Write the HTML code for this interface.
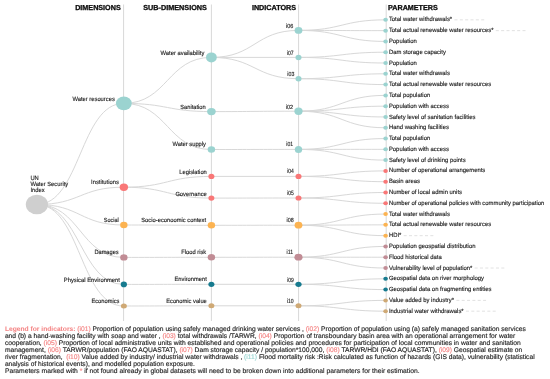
<!DOCTYPE html>
<html><head><meta charset="utf-8"><style>
html,body{margin:0;padding:0;background:#fff;}
body{width:550px;height:379px;position:relative;overflow:hidden;}
text{text-rendering:geometricPrecision;}
</style></head><body>
<svg width="550" height="379" viewBox="0 0 550 379" style="position:absolute;left:0;top:0">
<line x1="123.6" y1="4.5" x2="123.6" y2="321" stroke="#d8d8d8" stroke-width="1.0"/>
<line x1="211.4" y1="4.5" x2="211.4" y2="321" stroke="#d8d8d8" stroke-width="1.0"/>
<line x1="298.6" y1="4.5" x2="298.6" y2="321" stroke="#d8d8d8" stroke-width="1.0"/>
<line x1="386.2" y1="4.5" x2="386.2" y2="321" stroke="#d8d8d8" stroke-width="1.0"/>
<path d="M36.90,204.50C80.25,204.50 80.25,103.40 123.60,103.40 M36.90,204.50C80.25,204.50 80.25,187.20 123.60,187.20 M36.90,204.50C80.25,204.50 80.25,225.00 123.60,225.00 M36.90,204.50C80.25,204.50 80.25,257.40 123.60,257.40 M36.90,204.50C80.25,204.50 80.25,284.40 123.60,284.40 M36.90,204.50C80.25,204.50 80.25,306.00 123.60,306.00 M123.60,103.40C167.50,103.40 167.50,57.40 211.40,57.40 M123.60,103.40C167.50,103.40 167.50,111.60 211.40,111.60 M123.60,103.40C167.50,103.40 167.50,149.50 211.40,149.50 M123.60,187.20C167.50,187.20 167.50,176.40 211.40,176.40 M123.60,187.20C167.50,187.20 167.50,198.10 211.40,198.10 M123.60,225.00C167.50,225.00 167.50,225.30 211.40,225.30 M123.60,257.40C167.50,257.40 167.50,257.30 211.40,257.30 M123.60,284.40C167.50,284.40 167.50,284.30 211.40,284.30 M123.60,306.00C167.50,306.00 167.50,305.80 211.40,305.80 M211.40,57.40C255.00,57.40 255.00,30.40 298.60,30.40 M211.40,57.40H298.60 M211.40,57.40C255.00,57.40 255.00,78.70 298.60,78.70 M211.40,111.60C255.00,111.60 255.00,111.20 298.60,111.20 M211.40,149.50C255.00,149.50 255.00,149.40 298.60,149.40 M211.40,176.40H298.60 M211.40,198.10C255.00,198.10 255.00,198.00 298.60,198.00 M211.40,225.30C255.00,225.30 255.00,225.20 298.60,225.20 M211.40,257.30C255.00,257.30 255.00,257.20 298.60,257.20 M211.40,284.30H298.60 M211.40,305.80H298.60 M298.60,30.40C342.10,30.40 342.10,19.85 385.60,19.85 M298.60,30.40C342.10,30.40 342.10,30.64 385.60,30.64 M298.60,30.40C342.10,30.40 342.10,41.43 385.60,41.43 M298.60,57.40C342.10,57.40 342.10,52.22 385.60,52.22 M298.60,57.40C342.10,57.40 342.10,63.01 385.60,63.01 M298.60,78.70C342.10,78.70 342.10,73.80 385.60,73.80 M298.60,78.70C342.10,78.70 342.10,84.59 385.60,84.59 M298.60,111.20C342.10,111.20 342.10,95.38 385.60,95.38 M298.60,111.20C342.10,111.20 342.10,106.17 385.60,106.17 M298.60,111.20C342.10,111.20 342.10,116.96 385.60,116.96 M298.60,111.20C342.10,111.20 342.10,127.75 385.60,127.75 M298.60,149.40C342.10,149.40 342.10,138.54 385.60,138.54 M298.60,149.40C342.10,149.40 342.10,149.33 385.60,149.33 M298.60,149.40C342.10,149.40 342.10,160.12 385.60,160.12 M298.60,176.40C342.10,176.40 342.10,170.91 385.60,170.91 M298.60,176.40C342.10,176.40 342.10,181.70 385.60,181.70 M298.60,198.00C342.10,198.00 342.10,192.49 385.60,192.49 M298.60,198.00C342.10,198.00 342.10,203.28 385.60,203.28 M298.60,225.20C342.10,225.20 342.10,214.07 385.60,214.07 M298.60,225.20C342.10,225.20 342.10,224.86 385.60,224.86 M298.60,225.20C342.10,225.20 342.10,235.65 385.60,235.65 M298.60,257.20C342.10,257.20 342.10,246.44 385.60,246.44 M298.60,257.20C342.10,257.20 342.10,257.23 385.60,257.23 M298.60,257.20C342.10,257.20 342.10,268.02 385.60,268.02 M298.60,284.30C342.10,284.30 342.10,278.81 385.60,278.81 M298.60,284.30C342.10,284.30 342.10,289.60 385.60,289.60 M298.60,305.80C342.10,305.80 342.10,300.39 385.60,300.39 M298.60,305.80C342.10,305.80 342.10,311.18 385.60,311.18" fill="none" stroke="#d8d8d8" stroke-width="1.0"/>
<ellipse cx="36.9" cy="204.5" rx="11.1" ry="9.8" fill="#cfcfcf"/>
<ellipse cx="123.85" cy="103.4" rx="7.9" ry="6.8" fill="#9bd3d0"/>
<ellipse cx="123.85" cy="187.2" rx="4.2" ry="3.7" fill="#f97777"/>
<ellipse cx="123.85" cy="225.0" rx="3.7" ry="3.2" fill="#fcb351"/>
<ellipse cx="123.85" cy="257.4" rx="3.7" ry="3.2" fill="#c18c95"/>
<ellipse cx="123.85" cy="284.4" rx="3.1" ry="2.8" fill="#177b8f"/>
<ellipse cx="123.85" cy="306.0" rx="3.0" ry="2.5" fill="#cfa975"/>
<ellipse cx="211.4" cy="57.4" rx="5.4" ry="5.0" fill="#9bd3d0"/>
<ellipse cx="211.4" cy="111.6" rx="4.3" ry="3.7" fill="#9bd3d0"/>
<ellipse cx="211.4" cy="149.5" rx="3.7" ry="3.2" fill="#9bd3d0"/>
<ellipse cx="211.4" cy="176.4" rx="3.0" ry="2.6" fill="#f97777"/>
<ellipse cx="211.4" cy="198.1" rx="3.0" ry="2.6" fill="#f97777"/>
<ellipse cx="211.4" cy="225.3" rx="3.7" ry="3.2" fill="#fcb351"/>
<ellipse cx="211.4" cy="257.3" rx="3.7" ry="3.3" fill="#c18c95"/>
<ellipse cx="211.4" cy="284.3" rx="3.0" ry="2.6" fill="#177b8f"/>
<ellipse cx="211.4" cy="305.8" rx="3.0" ry="2.5" fill="#cfa975"/>
<ellipse cx="298.5" cy="30.4" rx="3.9" ry="3.4" fill="#9bd3d0"/>
<ellipse cx="298.5" cy="57.4" rx="3.0" ry="2.75" fill="#9bd3d0"/>
<ellipse cx="298.5" cy="78.7" rx="3.0" ry="2.75" fill="#9bd3d0"/>
<ellipse cx="298.5" cy="111.2" rx="4.1" ry="3.7" fill="#9bd3d0"/>
<ellipse cx="298.5" cy="149.4" rx="3.7" ry="3.5" fill="#9bd3d0"/>
<ellipse cx="298.5" cy="176.4" rx="3.0" ry="2.6" fill="#f97777"/>
<ellipse cx="298.5" cy="198.0" rx="3.0" ry="2.6" fill="#f97777"/>
<ellipse cx="298.5" cy="225.2" rx="3.9" ry="3.4" fill="#fcb351"/>
<ellipse cx="298.5" cy="257.2" rx="4.1" ry="3.4" fill="#c18c95"/>
<ellipse cx="298.5" cy="284.3" rx="3.1" ry="2.6" fill="#177b8f"/>
<ellipse cx="298.5" cy="305.8" rx="3.0" ry="2.5" fill="#cfa975"/>
<ellipse cx="385.6" cy="19.85" rx="2.3" ry="2.0" fill="#9bd3d0"/>
<ellipse cx="385.6" cy="30.64" rx="2.3" ry="2.0" fill="#9bd3d0"/>
<ellipse cx="385.6" cy="41.43" rx="2.3" ry="2.0" fill="#9bd3d0"/>
<ellipse cx="385.6" cy="52.22" rx="2.3" ry="2.0" fill="#9bd3d0"/>
<ellipse cx="385.6" cy="63.01" rx="2.3" ry="2.0" fill="#9bd3d0"/>
<ellipse cx="385.6" cy="73.80" rx="2.3" ry="2.0" fill="#9bd3d0"/>
<ellipse cx="385.6" cy="84.59" rx="2.3" ry="2.0" fill="#9bd3d0"/>
<ellipse cx="385.6" cy="95.38" rx="2.3" ry="2.0" fill="#9bd3d0"/>
<ellipse cx="385.6" cy="106.17" rx="2.3" ry="2.0" fill="#9bd3d0"/>
<ellipse cx="385.6" cy="116.96" rx="2.3" ry="2.0" fill="#9bd3d0"/>
<ellipse cx="385.6" cy="127.75" rx="2.3" ry="2.0" fill="#9bd3d0"/>
<ellipse cx="385.6" cy="138.54" rx="2.3" ry="2.0" fill="#9bd3d0"/>
<ellipse cx="385.6" cy="149.33" rx="2.3" ry="2.0" fill="#9bd3d0"/>
<ellipse cx="385.6" cy="160.12" rx="2.3" ry="2.0" fill="#9bd3d0"/>
<ellipse cx="385.6" cy="170.91" rx="2.3" ry="2.0" fill="#f97777"/>
<ellipse cx="385.6" cy="181.70" rx="2.3" ry="2.0" fill="#f97777"/>
<ellipse cx="385.6" cy="192.49" rx="2.3" ry="2.0" fill="#f97777"/>
<ellipse cx="385.6" cy="203.28" rx="2.3" ry="2.0" fill="#f97777"/>
<ellipse cx="385.6" cy="214.07" rx="2.3" ry="2.0" fill="#fcb351"/>
<ellipse cx="385.6" cy="224.86" rx="2.3" ry="2.0" fill="#fcb351"/>
<ellipse cx="385.6" cy="235.65" rx="2.3" ry="2.0" fill="#fcb351"/>
<ellipse cx="385.6" cy="246.44" rx="2.3" ry="2.0" fill="#c18c95"/>
<ellipse cx="385.6" cy="257.23" rx="2.3" ry="2.0" fill="#c18c95"/>
<ellipse cx="385.6" cy="268.02" rx="2.3" ry="2.0" fill="#c18c95"/>
<ellipse cx="385.6" cy="278.81" rx="2.3" ry="2.0" fill="#177b8f"/>
<ellipse cx="385.6" cy="289.60" rx="2.3" ry="2.0" fill="#177b8f"/>
<ellipse cx="385.6" cy="300.39" rx="2.3" ry="2.0" fill="#cfa975"/>
<ellipse cx="385.6" cy="311.18" rx="2.3" ry="2.0" fill="#cfa975"/>
<g font-family='"Liberation Sans", Arial, sans-serif' font-weight="bold" font-size="7.2" fill="#0a0a0a" stroke="#0a0a0a" stroke-width="0.28">
<text x="75.20" y="9.6" textLength="45.50" lengthAdjust="spacingAndGlyphs">DIMENSIONS</text>
<text x="143.20" y="9.6" textLength="63.70" lengthAdjust="spacingAndGlyphs">SUB-DIMENSIONS</text>
<text x="251.90" y="9.6" textLength="44.20" lengthAdjust="spacingAndGlyphs">INDICATORS</text>
<text x="388.00" y="9.6" textLength="49.80" lengthAdjust="spacingAndGlyphs">PARAMETERS</text>
</g>
<g font-family='"Liberation Sans", Arial, sans-serif' font-size="6.1" fill="#1e1e1e" stroke="#1e1e1e" stroke-width="0.14">
<text x="30.40" y="179.6" textLength="8.38" lengthAdjust="spacingAndGlyphs">UN</text>
<text x="30.40" y="185.7" textLength="37.80" lengthAdjust="spacingAndGlyphs">Water Security</text>
<text x="30.40" y="191.8" textLength="14.19" lengthAdjust="spacingAndGlyphs">Index</text>
<text x="72.50" y="100.9" textLength="42.30" lengthAdjust="spacingAndGlyphs">Water resources</text>
<text x="91.07" y="183.8" textLength="27.73" lengthAdjust="spacingAndGlyphs">Institutions</text>
<text x="103.80" y="221.8" textLength="14.90" lengthAdjust="spacingAndGlyphs">Social</text>
<text x="94.40" y="254.4" textLength="24.30" lengthAdjust="spacingAndGlyphs">Damages</text>
<text x="63.80" y="281.5" textLength="56.10" lengthAdjust="spacingAndGlyphs">Physical Environment</text>
<text x="91.40" y="303.4" textLength="28.10" lengthAdjust="spacingAndGlyphs">Economics</text>
<text x="160.60" y="55.0" textLength="43.80" lengthAdjust="spacingAndGlyphs">Water availability</text>
<text x="180.30" y="108.7" textLength="25.40" lengthAdjust="spacingAndGlyphs">Sanitation</text>
<text x="172.60" y="145.9" textLength="33.40" lengthAdjust="spacingAndGlyphs">Water supply</text>
<text x="179.30" y="173.9" textLength="27.50" lengthAdjust="spacingAndGlyphs">Legislation</text>
<text x="175.40" y="195.5" textLength="31.40" lengthAdjust="spacingAndGlyphs">Governance</text>
<text x="141.20" y="221.9" textLength="64.90" lengthAdjust="spacingAndGlyphs">Socio-econoomic context</text>
<text x="181.20" y="254.4" textLength="25.00" lengthAdjust="spacingAndGlyphs">Flood risk</text>
<text x="174.50" y="281.0" textLength="32.30" lengthAdjust="spacingAndGlyphs">Environment</text>
<text x="166.20" y="302.8" textLength="40.60" lengthAdjust="spacingAndGlyphs">Economic value</text>
<text x="286.10" y="27.6" textLength="7.30" lengthAdjust="spacingAndGlyphs">i06</text>
<text x="286.90" y="54.8" textLength="6.70" lengthAdjust="spacingAndGlyphs">i07</text>
<text x="287.30" y="76.4" textLength="7.00" lengthAdjust="spacingAndGlyphs">i03</text>
<text x="285.90" y="108.6" textLength="7.20" lengthAdjust="spacingAndGlyphs">i02</text>
<text x="286.30" y="146.4" textLength="6.80" lengthAdjust="spacingAndGlyphs">i01</text>
<text x="287.20" y="173.2" textLength="6.70" lengthAdjust="spacingAndGlyphs">i04</text>
<text x="287.20" y="195.0" textLength="6.70" lengthAdjust="spacingAndGlyphs">i05</text>
<text x="286.50" y="221.9" textLength="7.20" lengthAdjust="spacingAndGlyphs">i08</text>
<text x="286.50" y="254.3" textLength="6.50" lengthAdjust="spacingAndGlyphs">i11</text>
<text x="287.20" y="281.5" textLength="6.70" lengthAdjust="spacingAndGlyphs">i09</text>
<text x="286.80" y="303.3" textLength="6.80" lengthAdjust="spacingAndGlyphs">i10</text>
<g font-size="6.1">
<text x="388.9" y="21.40" textLength="63.29" lengthAdjust="spacingAndGlyphs">Total water withdrawals*</text>
<text x="388.9" y="32.19" textLength="104.62" lengthAdjust="spacingAndGlyphs">Total actual renewable water resources*</text>
<text x="388.9" y="42.98" textLength="27.88" lengthAdjust="spacingAndGlyphs">Population</text>
<text x="388.9" y="53.77" textLength="57.06" lengthAdjust="spacingAndGlyphs">Dam storage capacity</text>
<text x="388.9" y="64.56" textLength="27.88" lengthAdjust="spacingAndGlyphs">Population</text>
<text x="388.9" y="75.35" textLength="60.99" lengthAdjust="spacingAndGlyphs">Total water withdrawals</text>
<text x="388.9" y="86.14" textLength="102.32" lengthAdjust="spacingAndGlyphs">Total actual renewable water resources</text>
<text x="388.9" y="96.93" textLength="41.33" lengthAdjust="spacingAndGlyphs">Total population</text>
<text x="388.9" y="107.72" textLength="60.02" lengthAdjust="spacingAndGlyphs">Population with access</text>
<text x="388.9" y="118.51" textLength="86.58" lengthAdjust="spacingAndGlyphs">Safety level of sanitation facilities</text>
<text x="388.9" y="129.30" textLength="60.01" lengthAdjust="spacingAndGlyphs">Hand washing facilities</text>
<text x="388.9" y="140.09" textLength="41.33" lengthAdjust="spacingAndGlyphs">Total population</text>
<text x="388.9" y="150.88" textLength="60.02" lengthAdjust="spacingAndGlyphs">Population with access</text>
<text x="388.9" y="161.67" textLength="76.74" lengthAdjust="spacingAndGlyphs">Safety level of drinking points</text>
<text x="388.9" y="172.46" textLength="96.42" lengthAdjust="spacingAndGlyphs">Number of operational arrangements</text>
<text x="388.9" y="183.25" textLength="31.16" lengthAdjust="spacingAndGlyphs">Basin areas</text>
<text x="388.9" y="194.04" textLength="73.13" lengthAdjust="spacingAndGlyphs">Number of local admin units</text>
<text x="388.9" y="204.83" textLength="155.44" lengthAdjust="spacingAndGlyphs">Number of operational policies with community participation</text>
<text x="388.9" y="215.62" textLength="60.99" lengthAdjust="spacingAndGlyphs">Total water withdrawals</text>
<text x="388.9" y="226.41" textLength="102.32" lengthAdjust="spacingAndGlyphs">Total actual renewable water resources</text>
<text x="388.9" y="237.20" textLength="12.46" lengthAdjust="spacingAndGlyphs">HDI*</text>
<text x="388.9" y="247.99" textLength="86.59" lengthAdjust="spacingAndGlyphs">Population geospatial distribution</text>
<text x="388.9" y="258.78" textLength="52.80" lengthAdjust="spacingAndGlyphs">Flood historical data</text>
<text x="388.9" y="269.57" textLength="83.42" lengthAdjust="spacingAndGlyphs">Vulnerability level of population*</text>
<text x="388.9" y="280.36" textLength="95.11" lengthAdjust="spacingAndGlyphs">Geospatial data on river morphology</text>
<text x="388.9" y="291.15" textLength="102.66" lengthAdjust="spacingAndGlyphs">Geospatial data on fragmenting entities</text>
<text x="388.9" y="301.94" textLength="65.16" lengthAdjust="spacingAndGlyphs">Value added by industry*</text>
<text x="388.9" y="312.73" textLength="74.76" lengthAdjust="spacingAndGlyphs">Industrial water withdrawals*</text>
</g>
</g>
<path d="M454.49,19.85h29.7 M495.82,30.64h29.7 M403.66,235.65h29.7 M474.62,268.02h29.7 M456.36,300.39h29.7 M465.96,311.18h29.7" stroke="#dedede" stroke-width="0.9" stroke-dasharray="3 2.34" fill="none"/>
<g font-family='"Liberation Sans", Arial, sans-serif' font-size="6.68" fill="#1e1e1e" stroke-width="0.14" xml:space="preserve">
<text transform="translate(0,330.80) scale(1,1.0)" x="4.9" y="0" textLength="520.90" lengthAdjust="spacingAndGlyphs"><tspan font-weight="bold" fill="#f48585" stroke="#f48585" stroke-width="0.05">Legend for indicators: </tspan><tspan fill="#f48585" stroke="#f48585">(i01)</tspan><tspan stroke="#1e1e1e"> Proportion of population using safely managed drinking water services , </tspan><tspan fill="#f48585" stroke="#f48585">(i02)</tspan><tspan stroke="#1e1e1e"> Proportion of population using (a) safely managed sanitation services</tspan></text>
<text transform="translate(0,337.80) scale(1,1.0)" x="4.9" y="0" textLength="510.40" lengthAdjust="spacingAndGlyphs"><tspan stroke="#1e1e1e">and (b) a hand-washing facility with soap and water , </tspan><tspan fill="#f48585" stroke="#f48585">(i03)</tspan><tspan stroke="#1e1e1e"> total withdrawals /TARWR, </tspan><tspan fill="#f48585" stroke="#f48585">(i04)</tspan><tspan stroke="#1e1e1e"> Proportion of transboundary basin area with an operational arrangement for water</tspan></text>
<text transform="translate(0,344.80) scale(1,1.0)" x="4.9" y="0" textLength="515.90" lengthAdjust="spacingAndGlyphs"><tspan stroke="#1e1e1e">cooperation, </tspan><tspan fill="#f48585" stroke="#f48585">(i05)</tspan><tspan stroke="#1e1e1e"> Proportion of local administrative units with established and operational policies and procedures for participation of local communities in water and sanitation</tspan></text>
<text transform="translate(0,351.80) scale(1,1.0)" x="4.9" y="0" textLength="517.40" lengthAdjust="spacingAndGlyphs"><tspan stroke="#1e1e1e">management, </tspan><tspan fill="#f48585" stroke="#f48585">(i06)</tspan><tspan stroke="#1e1e1e"> TARWR/population (FAO AQUASTAT), </tspan><tspan fill="#f48585" stroke="#f48585">(i07)</tspan><tspan stroke="#1e1e1e"> Dam storage capacity / population*100,000, </tspan><tspan fill="#f48585" stroke="#f48585">(i08)</tspan><tspan stroke="#1e1e1e"> TARWR/HDI (FAO AQUASTAT), </tspan><tspan fill="#f48585" stroke="#f48585">(i09)</tspan><tspan stroke="#1e1e1e"> Geospatial estimate on</tspan></text>
<text transform="translate(0,358.80) scale(1,1.0)" x="4.9" y="0" textLength="529.80" lengthAdjust="spacingAndGlyphs"><tspan stroke="#1e1e1e">river fragmentation,  </tspan><tspan fill="#f48585" stroke="#f48585">(i10)</tspan><tspan stroke="#1e1e1e"> Value added by industry/ industrial water withdrawals , </tspan><tspan fill="#98d4d0" stroke="#98d4d0">(i11)</tspan><tspan stroke="#1e1e1e"> Flood mortality risk :Risk calculated as function of hazards (GIS data), vulnerability (statistical</tspan></text>
<text transform="translate(0,365.80) scale(1,1.0)" x="4.9" y="0" textLength="190.00" lengthAdjust="spacingAndGlyphs"><tspan stroke="#1e1e1e">analysis of historical events), and modelled population exposure.</tspan></text>
<text transform="translate(0,372.80) scale(1,1.0)" x="4.9" y="0" textLength="414.70" lengthAdjust="spacingAndGlyphs"><tspan stroke="#1e1e1e">Parameters marked with </tspan><tspan fill="#f48585" stroke="#f48585">*</tspan><tspan stroke="#1e1e1e"> if not found already in global datasets will need to be broken down into additional parameters for their estimation.</tspan></text>
</g>
</svg>
</body></html>
